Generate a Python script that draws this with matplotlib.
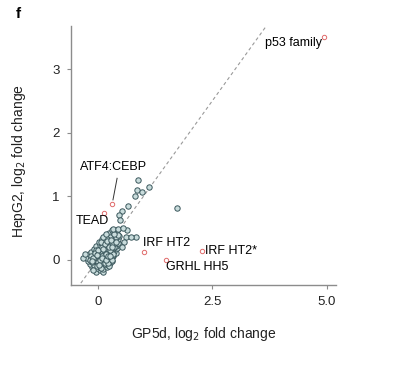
import matplotlib.pyplot as plt
import numpy as np

plt.rcParams['font.family'] = ['Liberation Sans', 'DejaVu Sans']

# motifs, gray points (GP5d vs HepG2 log2 fold change)
gp5d = [
    # dense cluster, row by row
    -0.05, 0.04, 0.12,
    -0.12, -0.02, 0.05, 0.11, 0.19,
    -0.17, -0.08, 0.01, 0.08, 0.14, 0.22, 0.27,
    -0.21, -0.13, -0.05, 0.03, 0.09, 0.17, 0.24, 0.31,
    -0.23, -0.15, -0.07, 0.00, 0.07, 0.13, 0.20, 0.26, 0.34,
    -0.19, -0.10, -0.03, 0.04, 0.11, 0.18, 0.25, 0.32, 0.39,
    -0.14, -0.06, 0.02, 0.08, 0.15, 0.22, 0.29, 0.36,
    -0.09, -0.01, 0.06, 0.13, 0.20, 0.27, 0.34, 0.42,
    -0.03, 0.05, 0.11, 0.18, 0.25, 0.32, 0.39, 0.46,
    0.03, 0.10, 0.17, 0.24, 0.31, 0.38, 0.45,
    0.09, 0.16, 0.23, 0.30, 0.37, 0.44,
    0.15, 0.22, 0.30, 0.38, 0.46,
    0.24, 0.33, 0.41,
    0.30, 0.42,
    -0.16, -0.09, 0.00, 0.05, 0.12, 0.19, 0.16, 0.23, 0.29, 0.35,
    0.08, -0.04, 0.02, 0.09, 0.21, 0.28, 0.13, 0.27, 0.20, 0.40,
    -0.10, -0.01, 0.07, 0.16, 0.25, -0.18, -0.11, 0.05, 0.14, 0.22,
    0.31, -0.07, 0.01, 0.10, 0.18, 0.33, 0.00, 0.09, 0.26, 0.36,
    0.06, 0.15, 0.24, 0.19, 0.34, 0.12, 0.28, 0.43, 0.35, 0.18,
    -0.02, 0.08, 0.03, -0.13, 0.17, 0.22, 0.11, 0.39, 0.26, 0.31,
    # scattered points
    0.87, 0.86, 0.97, 1.11, 0.82, 0.66, 0.52, 1.72, 0.47, 0.48,
    0.32, 0.63, 0.83, 0.61, 0.72, 0.43, 0.55, 0.58, 0.52,
    -0.32, -0.27,
]
hepg2 = [
    -0.19, -0.17, -0.20,
    -0.12, -0.14, -0.11, -0.15, -0.12,
    -0.07, -0.09, -0.06, -0.09, -0.07, -0.08, -0.05,
    -0.02, -0.04, -0.01, -0.03, -0.01, -0.04, -0.02, -0.03,
    0.03, 0.01, 0.04, 0.02, 0.03, 0.01, 0.04, 0.02, 0.05,
    0.08, 0.06, 0.09, 0.07, 0.08, 0.06, 0.09, 0.07, 0.10,
    0.12, 0.13, 0.11, 0.14, 0.12, 0.13, 0.11, 0.14,
    0.17, 0.18, 0.16, 0.18, 0.17, 0.19, 0.16, 0.18,
    0.22, 0.23, 0.21, 0.24, 0.22, 0.23, 0.21, 0.24,
    0.27, 0.28, 0.26, 0.28, 0.27, 0.29, 0.26,
    0.32, 0.33, 0.31, 0.34, 0.32, 0.33,
    0.37, 0.38, 0.36, 0.39, 0.37,
    0.42, 0.43, 0.41,
    0.47, 0.46,
    0.05, 0.00, -0.04, 0.10, 0.05, 0.10, 0.20, 0.16, 0.25, 0.30,
    0.25, 0.15, 0.06, -0.04, 0.00, 0.13, 0.30, 0.35, 0.33, 0.35,
    -0.16, -0.10, -0.13, -0.06, -0.10, 0.00, 0.03, -0.01, 0.03, -0.06,
    0.00, 0.11, 0.09, 0.05, 0.09, 0.09, 0.15, 0.19, 0.15, 0.19,
    0.27, 0.25, 0.19, 0.29, 0.25, 0.35, 0.31, 0.39, 0.40, 0.41,
    0.07, 0.02, -0.09, -0.02, -0.01, 0.06, 0.17, 0.27, 0.05, 0.19,
    # scattered points
    1.25, 1.10, 1.06, 1.14, 1.00, 0.85, 0.77, 0.81, 0.70, 0.63,
    0.48, 0.46, 0.35, 0.35, 0.35, 0.48, 0.50, 0.28, 0.20,
    0.02, 0.09,
]

# highlighted motifs
hl_names = ['p53 family', 'ATF4:CEBP', 'TEAD', 'IRF HT2', 'GRHL HH5', 'IRF HT2*']
hl_x = [4.95, 0.31, 0.14, 1.01, 1.48, 2.28]
hl_y = [3.50, 0.88, 0.73, 0.12, 0.00, 0.13]

fig = plt.figure(figsize=(3.98, 3.71), dpi=100)
ax = fig.add_axes([0.178, 0.232, 0.666, 0.698])

# y = x reference line
ax.plot([-0.45, 3.72], [-0.45, 3.72], ls=(0, (3, 2.5)), color='#999999', lw=0.8, zorder=1)

ax.scatter(gp5d, hepg2, s=15, facecolor='#c9dcdc', edgecolor='#3a575c', linewidths=0.7, zorder=2)
ax.scatter(hl_x, hl_y, s=10, facecolor='white', edgecolor='#e06a6a', linewidths=0.7, zorder=3)

fs = 9
ax.text(4.89, 3.41, 'p53 family', ha='right', va='center', fontsize=fs)
ax.text(0.35, 1.46, 'ATF4:CEBP', ha='center', va='center', fontsize=fs)
ax.plot([0.42, 0.33], [1.28, 0.94], color='#333333', lw=0.7)
ax.text(-0.12, 0.61, 'TEAD', ha='center', va='center', fontsize=fs)
ax.text(0.99, 0.26, 'IRF HT2', ha='left', va='center', fontsize=fs)
ax.text(1.48, -0.12, 'GRHL HH5', ha='left', va='center', fontsize=fs)
ax.text(2.34, 0.13, 'IRF HT2*', ha='left', va='center', fontsize=fs)

ax.set_xlim(-0.59, 5.2)
ax.set_ylim(-0.40, 3.68)
ax.set_xticks([0, 2.5, 5.0])
ax.set_xticklabels(['0', '2.5', '5.0'])
ax.set_yticks([0, 1, 2, 3])

for s in ['top', 'right']:
    ax.spines[s].set_visible(False)
for s in ['left', 'bottom']:
    ax.spines[s].set_color('#8c8c8c')
    ax.spines[s].set_linewidth(1.0)
ax.tick_params(length=3, width=0.8, color='#8c8c8c', labelsize=9.5, labelcolor='#222222', pad=5)

ax.set_xlabel('GP5d, log$_2$ fold change', fontsize=10, color='#222222')
ax.set_ylabel('HepG2, log$_2$ fold change', fontsize=10, color='#222222')
ax.xaxis.set_label_coords(0.5, -0.155)
ax.yaxis.set_label_coords(-0.16, 0.48)

fig.text(0.045, 0.962, 'f', fontsize=11, fontweight='bold', ha='center', va='center')

fig.savefig('out.png', dpi=100)
